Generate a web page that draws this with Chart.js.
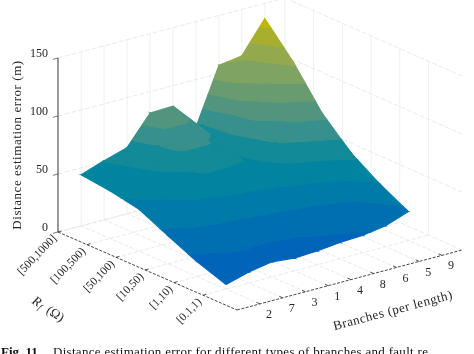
<!DOCTYPE html>
<html>
<head>
<meta charset="utf-8">
<title>Distance estimation error</title>
<script src="https://cdn.jsdelivr.net/npm/chart.js@4/dist/chart.umd.min.js"></script>
<style>
    html, body { margin: 0; padding: 0; background: #fff; overflow: hidden; }
    canvas { display: block; }
</style>
</head>
<body>
<canvas id="surfaceChart" width="474" height="354"></canvas>
<script>
// ================================
// Data
// ================================
const branchLabels = ['2', '7', '3', '1', '4', '8', '6', '5', '9'];
const rfLabels = ['[0.1,1)', '[1,10)', '[10,50)', '[50,100)', '[100,500)', '[500,1000]'];
const zTicks = [0, 50, 100, 150];

const errRf0 = [4, 9.5, 13, 11, 12, 14, 15, 18, 25];
const errRf1 = [12.6, 16.5, 17, 17, 17.5, 19, 21, 26, 38];
const errRf2 = [24, 29, 31, 33, 35, 37.5, 41.5, 46, 54];
const errRf3 = [36, 39, 45, 49, 49, 47, 62, 70, 77];
const errRf4 = [41, 45, 53, 65, 65, 54, 78, 95, 110];
const errRf5 = [44, 51, 57, 81.5, 82.3, 59, 107, 110, 137];
const errorRows = [errRf0, errRf1, errRf2, errRf3, errRf4, errRf5];

// colour bands of the surface, lower edge of each band
const bandLevels = [0, 16, 27.5, 39, 50.5, 62, 73.5, 85, 96.5, 108, 119.5, 131];
const bandColors = ['#0064b8', '#006fb2', '#007aa9', '#00849f', '#128a97', '#37908c',
    '#52957f', '#689c70', '#7ea363', '#93a94e', '#a8af2c', '#bdb705'];

// ================================
// Projection of the 3D box
// ================================
const bMin = -1.01, bMax = 8.88, rMin = -1.17, rMax = 5;

function project(b, r, z) {
    const u = (b - bMin) / (bMax - bMin);
    const v = (r - rMin) / (rMax - rMin);
    return {
        x: 237 + 225 * u - 179 * v + 2 * u * v,
        y: 310 - 60 * u - 78 * v - 1.16 * z
    };
}

// ================================
// Surface polygons, cut in colour bands
// ================================
function clipPoly(poly, level, keepAbove) {
    const out = [];
    poly.forEach((p, i) => {
        const q = poly[(i + 1) % poly.length];
        const pIn = keepAbove ? p.z >= level : p.z <= level;
        const qIn = keepAbove ? q.z >= level : q.z <= level;
        if (pIn) out.push(p);
        if (pIn !== qIn) {
            const t = (level - p.z) / (q.z - p.z);
            out.push({ b: p.b + (q.b - p.b) * t, r: p.r + (q.r - p.r) * t, z: level });
        }
    });
    return out;
}

function polyDataset(points, color) {
    const data = points.map(p => project(p.b, p.r, p.z));
    data.push(data[0]);
    return {
        data,
        showLine: true,
        fill: 'shape',
        backgroundColor: color,
        borderColor: color,
        borderWidth: 1.1,
        pointRadius: 0,
        tension: 0
    };
}

function lineDataset(from, to, color, width, dash) {
    return {
        data: [project(...from), project(...to)],
        showLine: true,
        fill: false,
        borderColor: color,
        borderWidth: width,
        borderDash: dash || [],
        pointRadius: 0
    };
}

function buildSurface() {
    const list = [];
    for (let r = errorRows.length - 2; r >= 0; r--) {
        for (let b = branchLabels.length - 2; b >= 0; b--) {
            const a = { b: b, r: r, z: errorRows[r][b] };
            const c = { b: b + 1, r: r, z: errorRows[r][b + 1] };
            const d = { b: b, r: r + 1, z: errorRows[r + 1][b] };
            const e = { b: b + 1, r: r + 1, z: errorRows[r + 1][b + 1] };
            [[d, e, c], [a, d, c]].forEach(tri => {
                bandLevels.forEach((lo, k) => {
                    const hi = k + 1 < bandLevels.length ? bandLevels[k + 1] : 1000;
                    let poly = clipPoly(tri, lo, true);
                    if (poly.length) poly = clipPoly(poly, hi, false);
                    if (poly.length > 2) list.push(polyDataset(poly, bandColors[k]));
                });
            });
        }
    }
    return list;
}

// ================================
// Walls, floor and axes
// ================================
function buildBox() {
    const list = [];
    const grid = '#ececec', dashGrid = '#e3e3e3', axis = '#555555';
    const zTop = zTicks[zTicks.length - 1];

    branchLabels.forEach((_, b) => {
        list.push(lineDataset([b, rMax, 0], [b, rMax, zTop], grid, 0.8));
        list.push(lineDataset([b, rMin, 0], [b, rMax, 0], dashGrid, 0.8, [4, 2]));
    });
    rfLabels.forEach((_, r) => {
        list.push(lineDataset([bMax, r, 0], [bMax, r, zTop], grid, 0.8));
        list.push(lineDataset([bMin, r, 0], [bMax, r, 0], dashGrid, 0.8, [4, 2]));
    });
    zTicks.forEach(z => {
        list.push(lineDataset([bMin, rMax, z], [bMax, rMax, z], dashGrid, 0.8, [5, 2]));
        list.push(lineDataset([bMax, rMax, z], [bMax, rMin, z], dashGrid, 0.8, [5, 2]));
        list.push(lineDataset([bMin, rMax, z], [bMin - 0.22, rMax, z], axis, 0.8));
    });

    list.push(lineDataset([bMin, rMax, 0], [bMin, rMax, zTop], axis, 1.2));
    list.push(lineDataset([bMin, rMax, 0], [bMin, rMin, 0], '#333333', 0.9, [3, 1.5]));
    list.push(lineDataset([bMin, rMin, 0], [bMax, rMin, 0], '#333333', 0.9, [3, 1.5]));

    branchLabels.forEach((_, b) => list.push(lineDataset([b, rMin, 0], [b, rMin + 0.12, 0], '#333333', 0.8)));
    rfLabels.forEach((_, r) => list.push(lineDataset([bMin, r, 0], [bMin + 0.15, r, 0], '#333333', 0.8)));
    return list;
}

// ================================
// Text
// ================================
const serif = '"Liberation Serif", serif';

function drawText(ctx, text, x, y, font, align, angle, spacing) {
    ctx.save();
    ctx.translate(x, y);
    ctx.rotate((angle || 0) * Math.PI / 180);
    ctx.font = font;
    ctx.textAlign = align;
    ctx.textBaseline = 'middle';
    ctx.letterSpacing = (spacing || 0) + 'px';
    ctx.fillText(text, 0, 0);
    ctx.restore();
}

const axisText = {
    id: 'axisText',
    afterDraw(chart) {
        const ctx = chart.ctx;
        const sx = chart.scales.x, sy = chart.scales.y;
        const px = p => ({ x: sx.getPixelForValue(p.x), y: sy.getPixelForValue(p.y) });
        ctx.save();
        ctx.fillStyle = '#262626';

        zTicks.forEach(z => {
            const p = px(project(bMin, rMax, z));
            drawText(ctx, String(z), p.x - 10, p.y - 4, '12px ' + serif, 'right');
        });
        branchLabels.forEach((label, b) => {
            const p = px(project(b, rMin, 0));
            drawText(ctx, label, p.x + 9, p.y + 11, '12px ' + serif, 'center');
        });
        rfLabels.forEach((label, r) => {
            const p = px(project(bMin, r, 0));
            drawText(ctx, label, p.x - 3, p.y + 5, '11.5px ' + serif, 'right', -46);
        });

        drawText(ctx, 'Distance estimation error (m)', 18, 145, '13px ' + serif, 'center', -90, 0.55);
        drawText(ctx, 'Branches (per length)', 393, 311, '13px ' + serif, 'center', -15, 0.5);

        // R_f label with its subscript
        ctx.save();
        ctx.translate(33, 300);
        ctx.rotate(33 * Math.PI / 180);
        ctx.textBaseline = 'middle';
        ctx.font = 'italic 13px ' + serif;
        ctx.fillText('R', 0, 0);
        ctx.font = 'italic 9px ' + serif;
        ctx.fillText('f', 8.5, 3);
        ctx.font = '13px ' + serif;
        ctx.fillText('(Ω)', 17, 0);
        ctx.restore();

        // figure caption, cut by the bottom of the picture
        ctx.fillStyle = '#111111';
        ctx.textBaseline = 'alphabetic';
        ctx.font = 'bold 13px ' + serif;
        ctx.fillText('Fig. 11.', 1, 356);
        ctx.font = '13px ' + serif;
        ctx.letterSpacing = '0.3px';
        ctx.fillText('Distance estimation error for different types of branches and fault re', 53, 356);
        ctx.restore();
    }
};

// ================================
// Chart
// ================================
document.addEventListener('DOMContentLoaded', function () {
    // first dataset is painted last, so the list goes front to back
    const backToFront = buildBox().concat(buildSurface());

    new Chart(document.getElementById('surfaceChart').getContext('2d'), {
        type: 'scatter',
        data: { datasets: backToFront.reverse() },
        options: {
            responsive: false,
            animation: false,
            layout: { padding: 0 },
            plugins: { legend: { display: false }, tooltip: { enabled: false } },
            scales: {
                x: { type: 'linear', display: false, min: 0, max: 474 },
                y: { type: 'linear', display: false, min: 0, max: 354, reverse: true }
            }
        },
        plugins: [axisText]
    });
});
</script>
</body>
</html>
